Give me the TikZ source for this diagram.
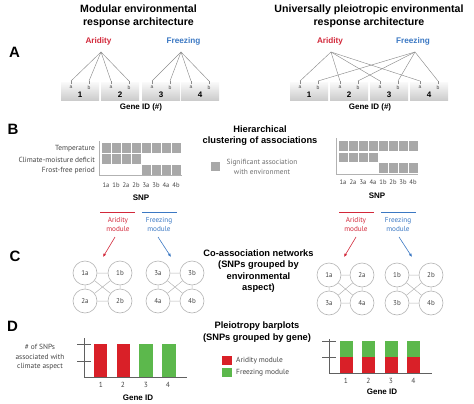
\documentclass[tikz,border=0pt]{standalone}
\usepackage{fontspec}
\setmainfont{Liberation Sans}
\newfontfamily\thinsans{PT Sans}
\usepackage{tikz}
\usetikzlibrary{calc, arrows.meta, positioning}
\usepackage{tkz-euclide}

\definecolor{arid}{HTML}{D2283A}
\definecolor{freez}{HTML}{3B78C3}
\definecolor{barred}{HTML}{D92028}
\definecolor{bargreen}{HTML}{5CB84C}
\definecolor{cellgray}{HTML}{A8A8A8}
\definecolor{wiregray}{HTML}{8C8C8C}
\definecolor{netgray}{HTML}{B4B4B4}
\definecolor{txtgray}{HTML}{444444}
\definecolor{leggray}{HTML}{6E6E6E}

\tikzset{
  panellab/.style={font=\fontsize{15}{15}\selectfont\bfseries},
  toptitle/.style={font=\fontsize{10.6}{13}\selectfont\bfseries, align=center},
  midtitle/.style={font=\fontsize{9.3}{11.5}\selectfont\bfseries, align=center},
  envlab/.style={font=\fontsize{8.2}{9}\selectfont\bfseries},
  smalltxt/.style={font=\thinsans\fontsize{7.4}{9.5}\selectfont, text=txtgray, inner sep=1pt},
  abtxt/.style={font=\fontsize{5}{5}\selectfont, text=txtgray, inner sep=0pt},
  axtitle/.style={font=\fontsize{8}{8}\selectfont\bfseries},
  genebox/.style={top color=gray!6, bottom color=gray!40, minimum width=38pt, minimum height=17pt, inner sep=0pt},
  genenum/.style={font=\fontsize{8}{8}\selectfont\bfseries, inner sep=0pt},
  wire/.style={wiregray, line width=0.45pt},
  hmcell/.style={fill=cellgray, minimum width=9pt, minimum height=9.5pt, inner sep=0pt},
  snp/.style={circle, draw=netgray, line width=0.6pt, minimum size=24pt, inner sep=0pt, font=\thinsans\fontsize{7}{7}\selectfont, text=txtgray},
  netedge/.style={netgray, line width=0.5pt},
  modarrow/.style={-{Latex[length=3.5pt,width=3pt]}, line width=0.6pt},
  modtxt/.style={font=\thinsans\fontsize{7.2}{9}\selectfont, align=center, inner sep=0pt},
  plotaxis/.style={gray!75!black, line width=0.8pt},
  hmaxis/.style={gray!60, line width=0.5pt},
}

\begin{document}
\begin{tikzpicture}[x=1pt, y=-1pt, >=latex]
\useasboundingbox (0,0) rectangle (474,404);

% ---- A
\node[panellab] (lA) at (14.5,52.5) {A};
\node[toptitle] (tMod) at (138.5,16.5) {Modular environmental\\response architecture};
\node[toptitle] (tUni) at (369,16.5) {Universally pleiotropic environmental\\response architecture};
\node[envlab, text=arid] (aridL) at (98.5,41.5) {Aridity};
\node[envlab, text=freez] (freezL) at (183.5,41.5) {Freezing};
\node[envlab, text=arid] (aridR) at (330,41.5) {Aridity};
\node[envlab, text=freez] (freezR) at (413,41.5) {Freezing};
\tkzDefPoints{101/52/AL, 181/52/FL, 331/52/AR, 415/52/FR}
\foreach \g/\x in {1/80,2/120,3/161,4/200}{
  \node[genebox] (gL\g) at (\x,91.5) {};
  \node[genenum] at (\x,95) {\g};
  \foreach \s/\d in {a/-9,b/9}{
    \coordinate (L\g\s) at (\x+\d,81);
    \draw[wire] (L\g\s) -- ++(0,3);
    \node[abtxt] at (\x+\d,87.5) {\s};
  }
}
\foreach \g/\x in {1/309,2/349,3/389,4/429}{
  \node[genebox] (gR\g) at (\x,91.5) {};
  \node[genenum] at (\x,95) {\g};
  \foreach \s/\d in {a/-9,b/9}{
    \coordinate (R\g\s) at (\x+\d,81);
    \draw[wire] (R\g\s) -- ++(0,3);
    \node[abtxt] at (\x+\d,87.5) {\s};
  }
}
\tkzDrawSegments[wire](AL,L1a AL,L1b AL,L2a AL,L2b FL,L3a FL,L3b FL,L4a FL,L4b)
\tkzDrawSegments[wire](AR,R1a AR,R2a AR,R3a AR,R4a FR,R1b FR,R2b FR,R3b FR,R4b)
\node[axtitle] (gidL) at (141,107) {Gene ID (\#)};
\node[axtitle] (gidR) at (370,107) {Gene ID (\#)};

% ---- B
\node[panellab] (lB) at (13,129) {B};
\draw[hmaxis] (99,141) -- (99,175) -- (182,175);
\foreach \c [count=\i from 0] in {1a,1b,2a,2b,3a,3b,4a,4b}{
  \node[hmcell] (hL\c) at (106+10*\i,148) {};
  \node[smalltxt, font=\thinsans\fontsize{6.6}{6.6}\selectfont] at (106+10*\i,185) {\c};
}
\foreach \i in {0,...,3} \node[hmcell] at (106+10*\i,159) {};
\foreach \i in {4,...,7} \node[hmcell] at (106+10*\i,170) {};
\node[smalltxt, anchor=east] (rT) at (96,149) {Temperature};
\node[smalltxt, anchor=east] (rC) at (96,160) {Climate-moisture deficit};
\node[smalltxt, anchor=east] (rF) at (96,171) {Frost-free period};
\node[axtitle] (snpL) at (141,198) {SNP};

\node[midtitle] (tHier) at (260,135.5) {Hierarchical\\clustering of associations};
\node[hmcell, minimum height=9pt] (legcell) at (215.5,166.5) {};
\node[smalltxt, align=center, text=leggray] (legtxt) at (262,167) {Significant association\\with environment};

\draw[hmaxis] (336,138) -- (336,174) -- (418,174);
\foreach \c [count=\i from 0] in {1a,2a,3a,4a,1b,2b,3b,4b}{
  \node[hmcell] (hR\c) at (343+10*\i,146) {};
  \node[smalltxt, font=\thinsans\fontsize{6.6}{6.6}\selectfont] at (343+10*\i,182) {\c};
}
\foreach \i in {0,...,3} \node[hmcell] at (343+10*\i,157.5) {};
\foreach \i in {4,...,7} \node[hmcell] at (343+10*\i,168) {};
\node[axtitle] (snpR) at (377,196) {SNP};

% ---- C
\node[panellab] (lC) at (15,256) {C};
\draw[arid, line width=0.7pt] (100,212) -- (135,212);
\draw[freez, line width=0.7pt] (142,212) -- (177,212);
\node[modtxt, text=arid] (modAL) at (118,224) {Aridity\\module};
\node[modtxt, text=freez] (modFL) at (159,224) {Freezing\\module};
\coordinate (aL0) at (115,237); \coordinate (aL1) at (103,257);
\coordinate (fL0) at (158,237); \coordinate (fL1) at (171,257);
\draw[modarrow, arid] (aL0) -- (aL1);
\draw[modarrow, freez] (fL0) -- (fL1);

\draw[arid, line width=0.7pt] (339,212) -- (374,212);
\draw[freez, line width=0.7pt] (381,212) -- (416,212);
\node[modtxt, text=arid] (modAR) at (356,224) {Aridity\\module};
\node[modtxt, text=freez] (modFR) at (398,224) {Freezing\\module};
\coordinate (aR0) at (356,237); \coordinate (aR1) at (344,257);
\coordinate (fR0) at (399,237); \coordinate (fR1) at (412,257);
\draw[modarrow, arid] (aR0) -- (aR1);
\draw[modarrow, freez] (fR0) -- (fR1);

\node[snp] (n1a) at (85,273) {1a};  \node[snp] (n1b) at (120,273) {1b};
\node[snp] (n2a) at (85,301) {2a};  \node[snp] (n2b) at (120,301) {2b};
\node[snp] (n3a) at (158,273) {3a}; \node[snp] (n3b) at (192,273) {3b};
\node[snp] (n4a) at (158,301) {4a}; \node[snp] (n4b) at (192,301) {4b};
\node[snp] (m1a) at (329,275) {1a}; \node[snp] (m2a) at (362,275) {2a};
\node[snp] (m3a) at (329,303) {3a}; \node[snp] (m4a) at (362,303) {4a};
\node[snp] (m1b) at (397,275) {1b}; \node[snp] (m2b) at (431,275) {2b};
\node[snp] (m3b) at (397,303) {3b}; \node[snp] (m4b) at (431,303) {4b};
\foreach \p/\q/\r/\s in {n1a/n1b/n2a/n2b, n3a/n3b/n4a/n4b, m1a/m2a/m3a/m4a, m1b/m2b/m3b/m4b}
  \draw[netedge] (\p) -- (\q) (\r) -- (\s) (\p) -- (\r) (\q) -- (\s) (\p) -- (\s) (\q) -- (\r);

\node[midtitle] (tCo) at (258.5,271) {Co-association networks\\(SNPs grouped by\\environmental\\aspect)};

% ---- D
\node[panellab] (lD) at (12.5,326) {D};
\node[smalltxt, align=center] (ylab) at (40,357.5) {\# of SNPs\\associated with\\climate aspect};
\draw[plotaxis] (84,338) -- (84,377) -- (187,377);
\draw[plotaxis] (77,344) -- (91,344) (77,361) -- (91,361);
\fill[barred] (94,344) rectangle (107,377);
\fill[barred] (117,344) rectangle (130,377);
\fill[bargreen] (139,344) rectangle (153,377);
\fill[bargreen] (162,344) rectangle (176,377);
\foreach \g/\x in {1/101,2/123,3/146,4/168}
  \node[smalltxt] at (\x,385) {\g};
\node[axtitle] (gidD) at (138,398) {Gene ID};

\node[midtitle] (tPl) at (257,332) {Pleiotropy barplots\\(SNPs grouped by gene)};
\fill[barred] (222,355.5) rectangle (232,364.5);
\fill[bargreen] (222,368) rectangle (232,377);
\node[smalltxt, anchor=west] (legA) at (235,361) {Aridity module};
\node[smalltxt, anchor=west] (legF) at (235,373) {Freezing module};

\draw[plotaxis] (329,339) -- (329,373) -- (432,373);
\draw[plotaxis] (322,341) -- (336,341) (322,357) -- (336,357);
\foreach \x in {340,362,385,407}{
  \fill[bargreen] (\x,341) rectangle (\x+12.5,357);
  \fill[barred] (\x,357) rectangle (\x+12.5,373);
}
\foreach \g/\x in {1/346,2/368.5,3/391,4/413.5}
  \node[smalltxt] at (\x,381) {\g};
\node[axtitle] (gidE) at (382,392) {Gene ID};
\end{tikzpicture}
\end{document}
